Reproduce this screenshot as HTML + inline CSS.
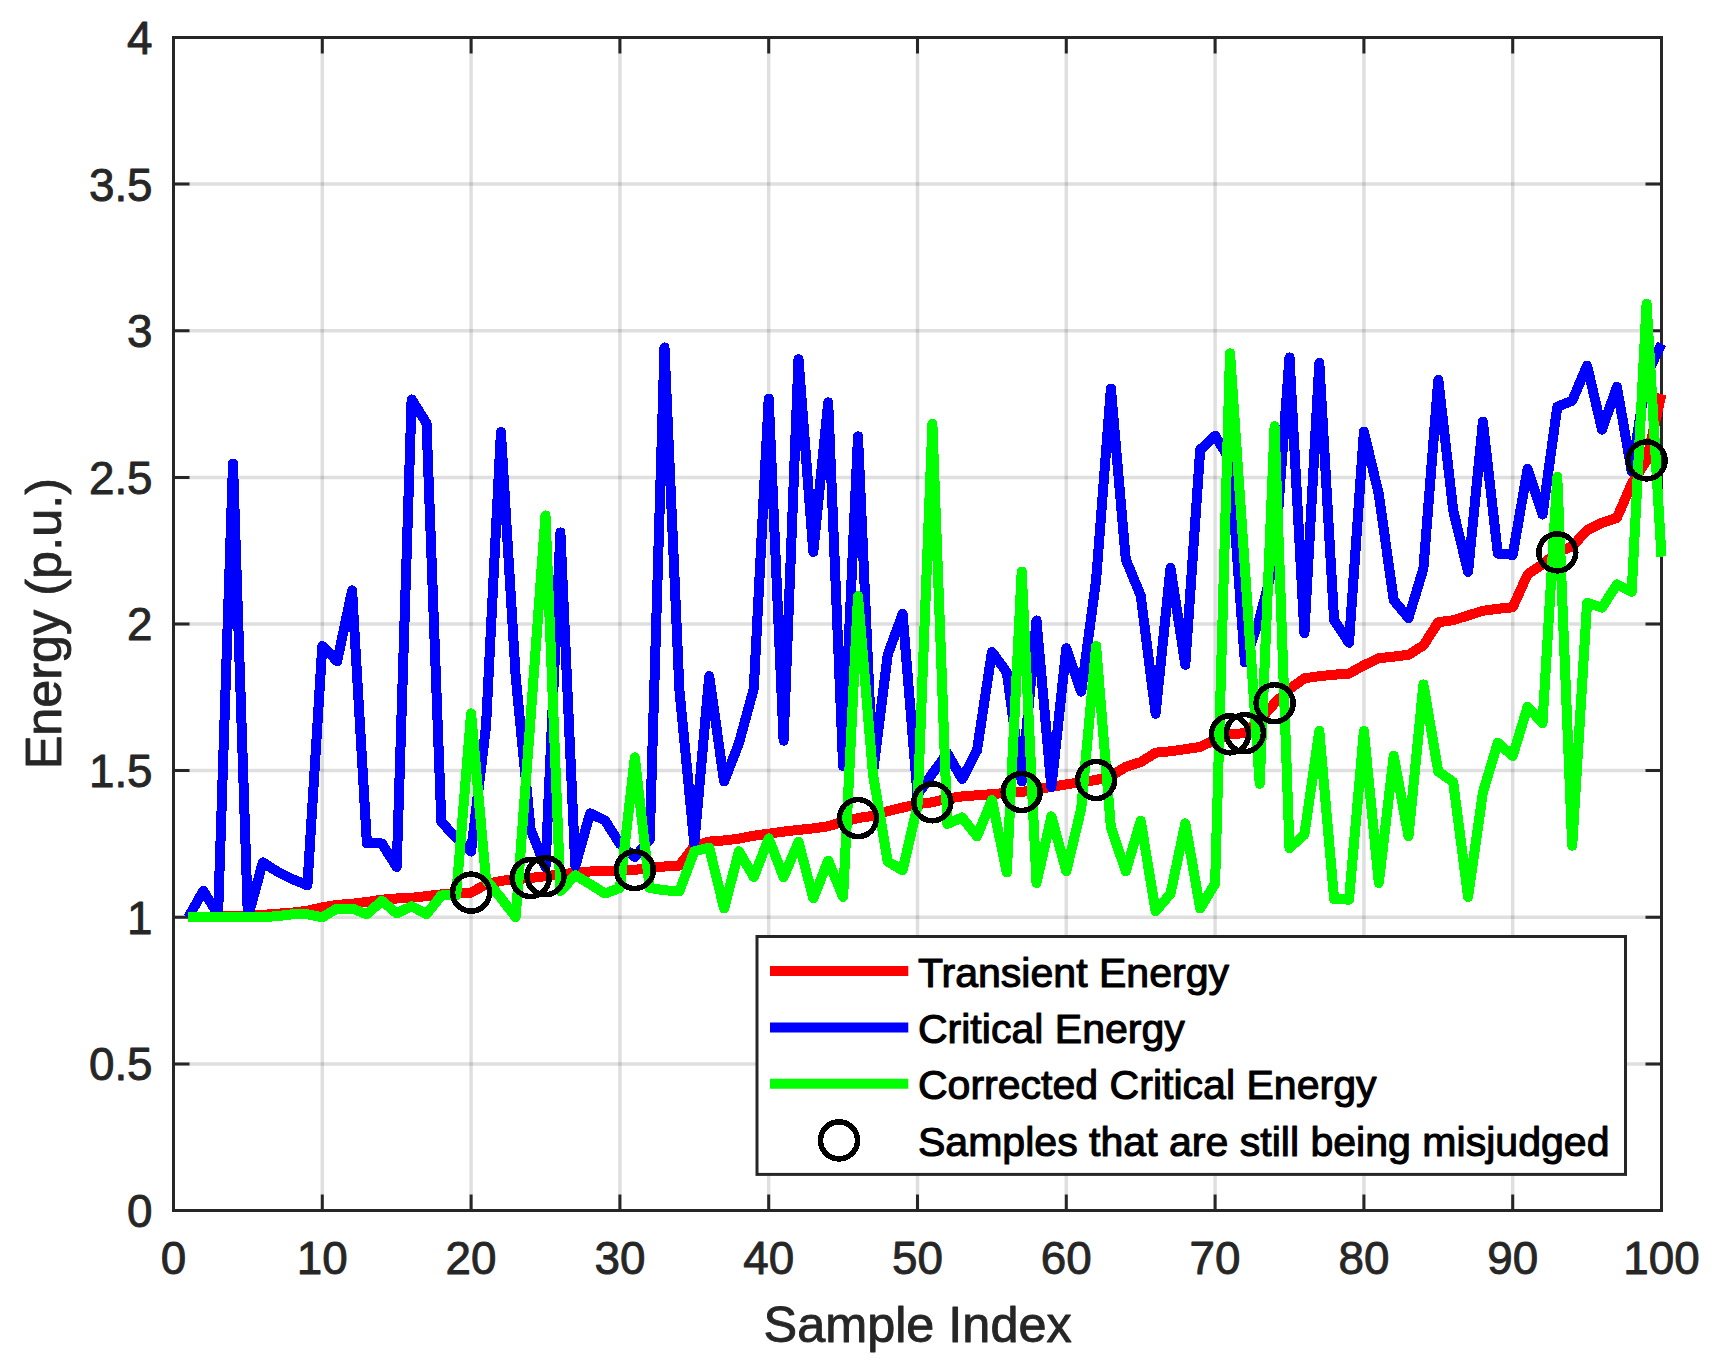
<!DOCTYPE html><html><head><meta charset="utf-8"><title>Energy chart</title>
<style>html,body{margin:0;padding:0;background:#fff}body{width:1731px;height:1370px;overflow:hidden}svg{display:block}text{font-family:"Liberation Sans",Arial,Helvetica,sans-serif;stroke-width:0.9px;stroke-linejoin:round}.d{stroke:#262626}.k{stroke:#000;stroke-width:1.1px}</style></head><body>
<svg width="1731" height="1370" viewBox="0 0 1731 1370">
<rect x="0" y="0" width="1731" height="1370" fill="#fff"/>
<path d="M322.3 37.5 V1210.5 M471.1 37.5 V1210.5 M619.9 37.5 V1210.5 M768.7 37.5 V1210.5 M917.5 37.5 V1210.5 M1066.3 37.5 V1210.5 M1215.1 37.5 V1210.5 M1363.9 37.5 V1210.5 M1512.7 37.5 V1210.5" stroke="#262626" stroke-opacity="0.15" stroke-width="3.5" fill="none"/>
<path d="M173.5 1063.9 H1661.5 M173.5 917.2 H1661.5 M173.5 770.6 H1661.5 M173.5 624.0 H1661.5 M173.5 477.4 H1661.5 M173.5 330.8 H1661.5 M173.5 184.1 H1661.5" stroke="#262626" stroke-opacity="0.15" stroke-width="3.5" fill="none"/>
<path d="M322.3 1210.5 V1194.5 M322.3 37.5 V53.5 M471.1 1210.5 V1194.5 M471.1 37.5 V53.5 M619.9 1210.5 V1194.5 M619.9 37.5 V53.5 M768.7 1210.5 V1194.5 M768.7 37.5 V53.5 M917.5 1210.5 V1194.5 M917.5 37.5 V53.5 M1066.3 1210.5 V1194.5 M1066.3 37.5 V53.5 M1215.1 1210.5 V1194.5 M1215.1 37.5 V53.5 M1363.9 1210.5 V1194.5 M1363.9 37.5 V53.5 M1512.7 1210.5 V1194.5 M1512.7 37.5 V53.5 M173.5 1063.9 H189.5 M1661.5 1063.9 H1645.5 M173.5 917.2 H189.5 M1661.5 917.2 H1645.5 M173.5 770.6 H189.5 M1661.5 770.6 H1645.5 M173.5 624.0 H189.5 M1661.5 624.0 H1645.5 M173.5 477.4 H189.5 M1661.5 477.4 H1645.5 M173.5 330.8 H189.5 M1661.5 330.8 H1645.5 M173.5 184.1 H189.5 M1661.5 184.1 H1645.5" stroke="#262626" stroke-width="3.0" fill="none"/>
<rect x="173.5" y="37.5" width="1488.0" height="1173.0" fill="none" stroke="#262626" stroke-width="3.0"/>
<polyline points="188.4,917.2 203.3,917.2 218.1,916.7 233.0,916.1 247.9,915.5 262.8,914.9 277.7,913.7 292.5,912.6 307.4,910.8 322.3,907.3 337.2,904.9 352.1,903.8 366.9,902.0 381.8,899.7 396.7,898.5 411.6,897.9 426.5,896.1 441.3,894.4 456.2,893.8 471.1,892.6 486.0,884.4 500.9,880.9 515.7,879.1 530.6,878.0 545.5,876.2 560.4,874.4 575.3,872.7 590.1,871.5 605.0,870.9 619.9,870.3 634.8,870.0 649.7,867.4 664.5,866.5 679.4,865.6 694.3,846.0 709.2,841.6 724.1,840.4 738.9,838.7 753.8,835.7 768.7,833.7 783.6,831.6 798.5,829.9 813.3,828.4 828.2,826.3 843.1,821.7 858.0,818.1 872.9,815.8 887.7,811.1 902.6,807.6 917.5,804.1 932.4,802.3 947.3,798.5 962.1,796.4 977.0,795.3 991.9,794.1 1006.8,792.9 1021.7,792.0 1036.5,789.4 1051.4,786.8 1066.3,784.4 1081.2,782.1 1096.1,780.0 1110.9,776.2 1125.8,766.8 1140.7,762.1 1155.6,752.7 1170.5,751.3 1185.3,749.2 1200.2,746.9 1215.1,739.8 1230.0,734.3 1244.9,733.1 1259.7,720.2 1274.6,703.2 1289.5,689.1 1304.4,678.3 1319.3,676.2 1334.1,674.7 1349.0,673.6 1363.9,665.3 1378.8,658.3 1393.7,656.6 1408.5,654.8 1423.4,645.4 1438.3,622.2 1453.2,620.2 1468.1,615.5 1482.9,610.8 1497.8,608.8 1512.7,607.3 1527.6,574.4 1542.5,564.2 1557.3,552.4 1572.2,546.3 1587.1,530.2 1602.0,522.8 1616.9,517.8 1631.7,483.8 1646.6,460.4 1661.5,394.1" fill="none" stroke="#ff0000" stroke-width="10.0" stroke-linejoin="round" stroke-linecap="butt" shape-rendering="crispEdges"/>
<polyline points="188.4,917.2 203.3,890.9 218.1,914.3 233.0,463.6 247.9,917.2 262.8,862.4 277.7,871.8 292.5,879.1 307.4,885.3 322.3,646.0 337.2,661.2 352.1,590.3 366.9,843.1 381.8,843.4 396.7,867.1 411.6,399.4 426.5,423.1 441.3,821.7 456.2,838.1 471.1,851.6 486.0,726.6 500.9,431.9 515.7,676.8 530.6,829.3 545.5,867.4 560.4,532.5 575.3,866.2 590.1,813.4 605.0,820.5 619.9,843.9 634.8,857.1 649.7,839.5 664.5,347.5 679.4,690.0 694.3,843.9 709.2,676.2 724.1,781.5 738.9,743.4 753.8,688.5 768.7,398.5 783.6,740.7 798.5,359.2 813.3,551.9 828.2,402.3 843.1,766.2 858.0,436.3 872.9,773.6 887.7,654.8 902.6,614.0 917.5,794.7 932.4,773.6 947.3,753.3 962.1,779.1 977.0,750.4 991.9,651.9 1006.8,672.4 1021.7,781.5 1036.5,620.5 1051.4,787.3 1066.3,648.3 1081.2,691.7 1096.1,580.0 1110.9,388.5 1125.8,559.5 1140.7,595.6 1155.6,713.7 1170.5,568.0 1185.3,664.8 1200.2,449.8 1215.1,435.7 1230.0,459.8 1244.9,662.4 1259.7,618.1 1274.6,559.5 1289.5,357.4 1304.4,633.4 1319.3,362.7 1334.1,619.9 1349.0,642.8 1363.9,431.6 1378.8,494.1 1393.7,600.2 1408.5,618.1 1423.4,568.6 1438.3,379.7 1453.2,510.5 1468.1,571.8 1482.9,421.7 1497.8,553.6 1512.7,554.8 1527.6,468.9 1542.5,514.6 1557.3,406.7 1572.2,400.8 1587.1,365.6 1602.0,429.6 1616.9,386.8 1631.7,471.5 1646.6,374.7 1661.5,343.9" fill="none" stroke="#0000ff" stroke-width="10.0" stroke-linejoin="round" stroke-linecap="butt" shape-rendering="crispEdges"/>
<polyline points="188.4,917.2 203.3,917.2 218.1,917.2 233.0,917.2 247.9,917.2 262.8,917.2 277.7,916.1 292.5,914.3 307.4,914.3 322.3,917.2 337.2,908.5 352.1,908.5 366.9,914.3 381.8,900.8 396.7,913.4 411.6,906.1 426.5,914.3 441.3,895.5 456.2,895.3 471.1,713.4 486.0,879.7 500.9,897.9 515.7,917.2 530.6,717.8 545.5,515.5 560.4,890.9 575.3,875.3 590.1,884.1 605.0,893.5 619.9,887.9 634.8,757.4 649.7,887.9 664.5,890.3 679.4,891.2 694.3,851.3 709.2,847.5 724.1,908.5 738.9,851.3 753.8,877.1 768.7,838.4 783.6,877.1 798.5,841.9 813.3,898.2 828.2,860.7 843.1,897.0 858.0,596.1 872.9,773.6 887.7,861.5 902.6,870.3 917.5,805.8 932.4,424.0 947.3,824.0 962.1,817.5 977.0,836.3 991.9,800.0 1006.8,872.4 1021.7,571.5 1036.5,882.9 1051.4,816.4 1066.3,871.2 1081.2,808.7 1096.1,646.0 1110.9,827.5 1125.8,871.2 1140.7,820.8 1155.6,911.1 1170.5,893.8 1185.3,823.4 1200.2,908.5 1215.1,883.5 1230.0,353.3 1244.9,568.3 1259.7,783.8 1274.6,426.3 1289.5,848.0 1304.4,834.6 1319.3,731.0 1334.1,898.8 1349.0,899.7 1363.9,731.0 1378.8,882.9 1393.7,755.7 1408.5,836.3 1423.4,684.4 1438.3,771.5 1453.2,782.1 1468.1,897.0 1482.9,792.3 1497.8,742.8 1512.7,756.0 1527.6,706.7 1542.5,723.1 1557.3,477.1 1572.2,845.7 1587.1,602.9 1602.0,607.6 1616.9,584.4 1631.7,591.7 1646.6,303.8 1661.5,556.6" fill="none" stroke="#00ff00" stroke-width="10.0" stroke-linejoin="round" stroke-linecap="butt" shape-rendering="crispEdges"/>
<circle cx="471.1" cy="892.6" r="18.5" fill="none" stroke="#000" stroke-width="5.5" shape-rendering="crispEdges"/>
<circle cx="530.6" cy="878.0" r="18.5" fill="none" stroke="#000" stroke-width="5.5" shape-rendering="crispEdges"/>
<circle cx="545.5" cy="876.2" r="18.5" fill="none" stroke="#000" stroke-width="5.5" shape-rendering="crispEdges"/>
<circle cx="634.8" cy="870.0" r="18.5" fill="none" stroke="#000" stroke-width="5.5" shape-rendering="crispEdges"/>
<circle cx="858.0" cy="818.1" r="18.5" fill="none" stroke="#000" stroke-width="5.5" shape-rendering="crispEdges"/>
<circle cx="932.4" cy="802.3" r="18.5" fill="none" stroke="#000" stroke-width="5.5" shape-rendering="crispEdges"/>
<circle cx="1021.7" cy="792.0" r="18.5" fill="none" stroke="#000" stroke-width="5.5" shape-rendering="crispEdges"/>
<circle cx="1096.1" cy="780.0" r="18.5" fill="none" stroke="#000" stroke-width="5.5" shape-rendering="crispEdges"/>
<circle cx="1230.0" cy="734.3" r="18.5" fill="none" stroke="#000" stroke-width="5.5" shape-rendering="crispEdges"/>
<circle cx="1244.9" cy="733.1" r="18.5" fill="none" stroke="#000" stroke-width="5.5" shape-rendering="crispEdges"/>
<circle cx="1274.6" cy="703.2" r="18.5" fill="none" stroke="#000" stroke-width="5.5" shape-rendering="crispEdges"/>
<circle cx="1557.3" cy="552.4" r="18.5" fill="none" stroke="#000" stroke-width="5.5" shape-rendering="crispEdges"/>
<circle cx="1646.6" cy="460.4" r="18.5" fill="none" stroke="#000" stroke-width="5.5" shape-rendering="crispEdges"/>
<text x="173.5" y="1274.2" font-size="45.8" class="d" fill="#262626" text-anchor="middle">0</text>
<text x="322.3" y="1274.2" font-size="45.8" class="d" fill="#262626" text-anchor="middle">10</text>
<text x="471.1" y="1274.2" font-size="45.8" class="d" fill="#262626" text-anchor="middle">20</text>
<text x="619.9" y="1274.2" font-size="45.8" class="d" fill="#262626" text-anchor="middle">30</text>
<text x="768.7" y="1274.2" font-size="45.8" class="d" fill="#262626" text-anchor="middle">40</text>
<text x="917.5" y="1274.2" font-size="45.8" class="d" fill="#262626" text-anchor="middle">50</text>
<text x="1066.3" y="1274.2" font-size="45.8" class="d" fill="#262626" text-anchor="middle">60</text>
<text x="1215.1" y="1274.2" font-size="45.8" class="d" fill="#262626" text-anchor="middle">70</text>
<text x="1363.9" y="1274.2" font-size="45.8" class="d" fill="#262626" text-anchor="middle">80</text>
<text x="1512.7" y="1274.2" font-size="45.8" class="d" fill="#262626" text-anchor="middle">90</text>
<text x="1661.5" y="1274.2" font-size="45.8" class="d" fill="#262626" text-anchor="middle">100</text>
<text x="152.6" y="1226.9" font-size="45.8" class="d" fill="#262626" text-anchor="end">0</text>
<text x="152.6" y="1080.3" font-size="45.8" class="d" fill="#262626" text-anchor="end">0.5</text>
<text x="152.6" y="933.6" font-size="45.8" class="d" fill="#262626" text-anchor="end">1</text>
<text x="152.6" y="787.0" font-size="45.8" class="d" fill="#262626" text-anchor="end">1.5</text>
<text x="152.6" y="640.4" font-size="45.8" class="d" fill="#262626" text-anchor="end">2</text>
<text x="152.6" y="493.8" font-size="45.8" class="d" fill="#262626" text-anchor="end">2.5</text>
<text x="152.6" y="347.1" font-size="45.8" class="d" fill="#262626" text-anchor="end">3</text>
<text x="152.6" y="200.5" font-size="45.8" class="d" fill="#262626" text-anchor="end">3.5</text>
<text x="152.6" y="53.9" font-size="45.8" class="d" fill="#262626" text-anchor="end">4</text>
<text x="917.6" y="1342" font-size="50.4" class="d" fill="#262626" text-anchor="middle">Sample Index</text>
<text transform="translate(60.5,623.7) rotate(-90)" font-size="50.4" class="d" fill="#262626" text-anchor="middle">Energy (p.u.)</text>
<rect x="757" y="936.5" width="868.5" height="237.9" fill="#fff" stroke="#262626" stroke-width="3.0"/>
<line x1="770" y1="971.0" x2="908.3" y2="971.0" stroke="#ff0000" stroke-width="10.0"/>
<text transform="translate(917.9,986.50) scale(0.997,1)" font-size="41.2" class="k" fill="#000">Transient Energy</text>
<line x1="770" y1="1027.4" x2="908.3" y2="1027.4" stroke="#0000ff" stroke-width="10.0"/>
<text transform="translate(917.9,1042.85) scale(0.997,1)" font-size="41.2" class="k" fill="#000">Critical Energy</text>
<line x1="770" y1="1083.8" x2="908.3" y2="1083.8" stroke="#00ff00" stroke-width="10.0"/>
<text transform="translate(917.9,1099.20) scale(0.997,1)" font-size="41.2" class="k" fill="#000">Corrected Critical Energy</text>
<circle cx="839" cy="1140.4" r="18.5" fill="none" stroke="#000" stroke-width="5.5" shape-rendering="crispEdges"/>
<text transform="translate(917.9,1155.55) scale(0.997,1)" font-size="41.2" class="k" fill="#000">Samples that are still being misjudged</text>
</svg></body></html>
